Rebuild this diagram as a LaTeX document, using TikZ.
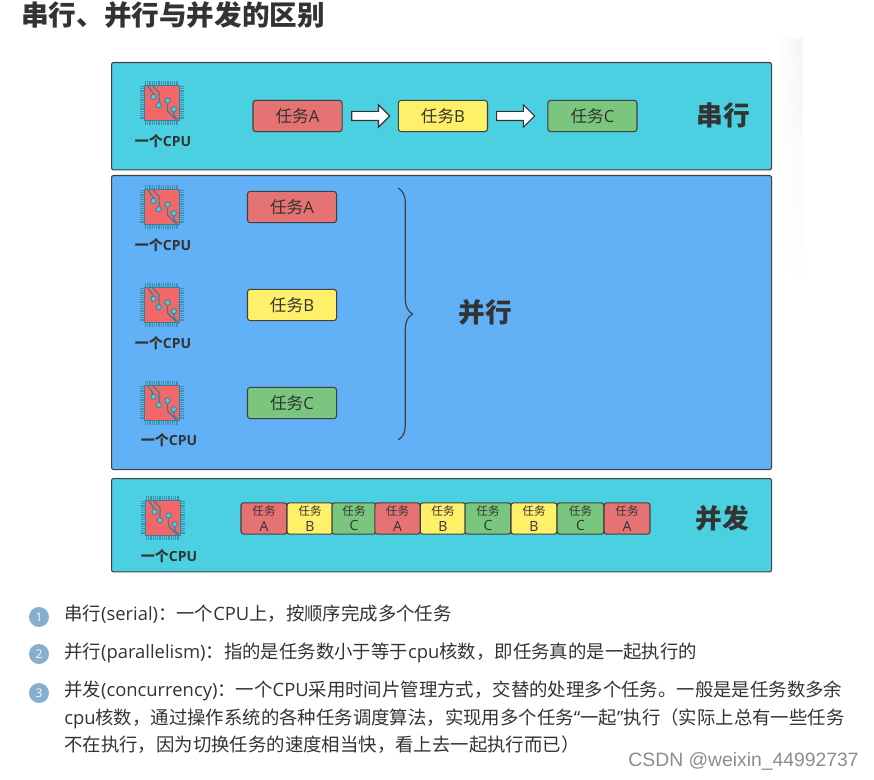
\documentclass[tikz,border=0pt]{standalone}
\usepackage{fontspec}
\setmainfont{Open Sans}
\newfontfamily\cjk{Noto Sans CJK SC}
\newfontfamily\marksans{Liberation Sans}
\usetikzlibrary{positioning,arrows.meta,shapes.arrows,decorations.pathreplacing,fadings}
\definecolor{panelcyan}{HTML}{4BD0E2}
\definecolor{panelblue}{HTML}{62B0F5}
\definecolor{taskred}{HTML}{E57373}
\definecolor{taskyellow}{HTML}{FFF06A}
\definecolor{taskgreen}{HTML}{7BC67E}
\definecolor{chipred}{HTML}{F26868}
\definecolor{chipline}{HTML}{3F7C96}
\definecolor{chippin}{HTML}{3E94AE}
\definecolor{inkdark}{HTML}{333333}
\definecolor{bullet}{HTML}{85AECF}
\newcommand{\zh}[1]{{\cjk #1}}
\newcommand{\slice}[1]{\zh{任务}\\{\fontsize{10.5pt}{11.5pt}\selectfont #1}}
\tikzfading[name=fadedown,top color=transparent!0,middle color=transparent!25,bottom color=transparent!100]
\tikzset{
  panel/.style={draw=black!75,line width=0.8pt,rounded corners=1.5pt,inner sep=0pt,anchor=north west},
  taskbox/.style={draw=black!75,line width=0.8pt,rounded corners=2pt,minimum width=66.8pt,minimum height=23.4pt,
    inner sep=0pt,font=\fontsize{12.5pt}{15pt}\selectfont,text=inkdark},
  slicebox/.style={draw=black!75,line width=0.8pt,rounded corners=2pt,minimum height=23.5pt,inner sep=0pt,
    align=center,font=\fontsize{8.7pt}{11.5pt}\selectfont,text=inkdark},
  cpulabel/.style={font=\bfseries\fontsize{10.5pt}{12pt}\selectfont,text=inkdark},
  modelabel/.style={font=\fontsize{20pt}{24pt}\selectfont,text=inkdark},
  blockarrow/.style={single arrow,draw=black!80,fill=white,line width=0.9pt,inner xsep=0pt,inner ysep=3pt,
    single arrow head extend=5pt,single arrow tip angle=90,minimum height=28.5pt},
  bodyline/.style={anchor=base west,inner sep=0pt,font=\fontsize{13.8pt}{16pt}\selectfont,text=inkdark},
  numdot/.style={circle,fill=bullet,minimum size=15pt,inner sep=0pt,text=white,font=\fontsize{9pt}{10pt}\selectfont},
  cpu/.pic={
    \draw[chippin,line width=3.6pt,dash pattern=on 0.7pt off 0.65pt] (-17,-19.5) -- (17,-19.5) (-17,19.5) -- (17,19.5)
      (-19.5,-17) -- (-19.5,17) (19.5,-17) -- (19.5,17);
    \draw[chipline,fill=chipred,line width=0.9pt] (-17.5,-17.5) rectangle (17.5,17.5);
    \draw[chipline,line width=0.9pt] (-14,-17) -- (-8.5,-9) (-9,-17) -- (-3,-10.5) -- (-3,-1)
      (5.5,1) -- (5.5,8) -- (14,16.5) (12,9) -- (12,13) -- (16,16.5);
    \draw[chipline,fill=panelcyan,line width=0.6pt] (-8.5,-6.2) circle (2.6) (-3.2,2.2) circle (2.6) (5.5,-2.5) circle (2.6) (11.8,6.2) circle (2.6);
  }
}
\begin{document}
\begin{tikzpicture}[x=0.75pt,y=-0.75pt]
\useasboundingbox (0,0) rectangle (874,780);

% pale strip behind the panels
\shade[left color=white,right color=black!4,path fading=fadedown] (775,39) rectangle (803,295);

% title
\node[anchor=west,inner sep=0pt,text=inkdark,font=\cjk\bfseries\fontsize{20.7pt}{24pt}\selectfont] (title) at (21,15) {串行、并行与并发的区别};

% panels
\node[panel,fill=panelcyan,minimum width=495pt,minimum height=80.5pt] (serialpanel) at (111,62) {};
\node[panel,fill=panelblue,minimum width=495pt,minimum height=220.5pt] (parallelpanel) at (111,175) {};
\node[panel,fill=panelcyan,minimum width=495pt,minimum height=70pt] (concurpanel) at (111,478) {};

% serial
\pic at (162,103) {cpu};
\node[cpulabel] (cpua) at (163,141) {\zh{一个}CPU};
\node[taskbox,fill=taskred] (sera) at (297.5,116) {\zh{任务}A};
\node[taskbox,fill=taskyellow,right=41.5pt of sera] (serb) {\zh{任务}B};
\node[taskbox,fill=taskgreen,right=44.5pt of serb] (serc) {\zh{任务}C};
\node[blockarrow,right=6.5pt of sera] (arrowab) {};
\node[blockarrow,right=6pt of serb] (arrowbc) {};
\node[modelabel] (serial) at (723,115) {\cjk\bfseries 串行};

% parallel
\pic at (162,207) {cpu};
\pic at (162,305) {cpu};
\pic at (162,403) {cpu};
\node[cpulabel] (cpub) at (163,245) {\zh{一个}CPU};
\node[cpulabel] (cpuc) at (163,343) {\zh{一个}CPU};
\node[cpulabel] (cpud) at (169,440) {\zh{一个}CPU};
\node[taskbox,fill=taskred] (para) at (292,207) {\zh{任务}A};
\node[taskbox,fill=taskyellow] (parb) at (292,305) {\zh{任务}B};
\node[taskbox,fill=taskgreen] (parc) at (292,403) {\zh{任务}C};
\coordinate (bracetop) at (398,188);
\coordinate (bracebot) at (398,440);
\draw[black!75,line width=0.9pt,decorate,decoration={brace,amplitude=11pt}] (bracetop) -- (bracebot);
\node[modelabel] (parallel) at (485,312) {\cjk\bfseries 并行};

% concurrent
\pic at (163,518) {cpu};
\node[cpulabel] (cpue) at (169,556) {\zh{一个}CPU};
\node[slicebox,fill=taskred,minimum width=34.5pt] (sa) at (264,518.5) {\slice{A}};
\node[slicebox,fill=taskyellow,minimum width=34.5pt] (sb) at (310,518.5) {\slice{B}};
\node[slicebox,fill=taskgreen,minimum width=33pt] (sc) at (354,518.5) {\slice{C}};
\node[slicebox,fill=taskred,minimum width=34pt] (sd) at (397.5,518.5) {\slice{A}};
\node[slicebox,fill=taskyellow,minimum width=34pt] (se) at (443,518.5) {\slice{B}};
\node[slicebox,fill=taskgreen,minimum width=34.5pt] (sf) at (488,518.5) {\slice{C}};
\node[slicebox,fill=taskyellow,minimum width=34.5pt] (sg) at (534,518.5) {\slice{B}};
\node[slicebox,fill=taskgreen,minimum width=35pt] (sh) at (580.5,518.5) {\slice{C}};
\node[slicebox,fill=taskred,minimum width=34.5pt] (si) at (627,518.5) {\slice{A}};
\node[modelabel] (concur) at (722,518) {\cjk\bfseries 并发};

% notes
\node[numdot] (numa) at (39,617) {1};
\node[numdot] (numb) at (39,654) {2};
\node[numdot] (numc) at (39,693) {3};
\node[bodyline] (linea) at (64,620) {\zh{串行}(serial)\zh{：一个}CPU\zh{上，按顺序完成多个任务}};
\node[bodyline] (lineb) at (64,658) {\zh{并行}(parallelism)\zh{：指的是任务数小于等于}cpu\zh{核数，即任务真的是一起执行的}};
\node[bodyline] (linec) at (64,696) {\zh{并发}(concurrency)\zh{：一个}CPU\zh{采用时间片管理方式，交替的处理多个任务。一般是是任务数多余}};
\node[bodyline] (lined) at (64,724) {cpu\zh{核数，通过操作系统的各种任务调度算法，实现用多个任务}“\zh{一起}”\zh{执行（实际上总有一些任务}};
\node[bodyline] (linee) at (64,751) {\zh{不在执行，因为切换任务的速度相当快，看上去一起执行而已）}};

% watermark
\node[anchor=east,inner sep=0pt,text=black!45,font=\marksans\fontsize{14.5pt}{17pt}\selectfont] (mark) at (859,761) {CSDN @weixin\_44992737};
\end{tikzpicture}
\end{document}
